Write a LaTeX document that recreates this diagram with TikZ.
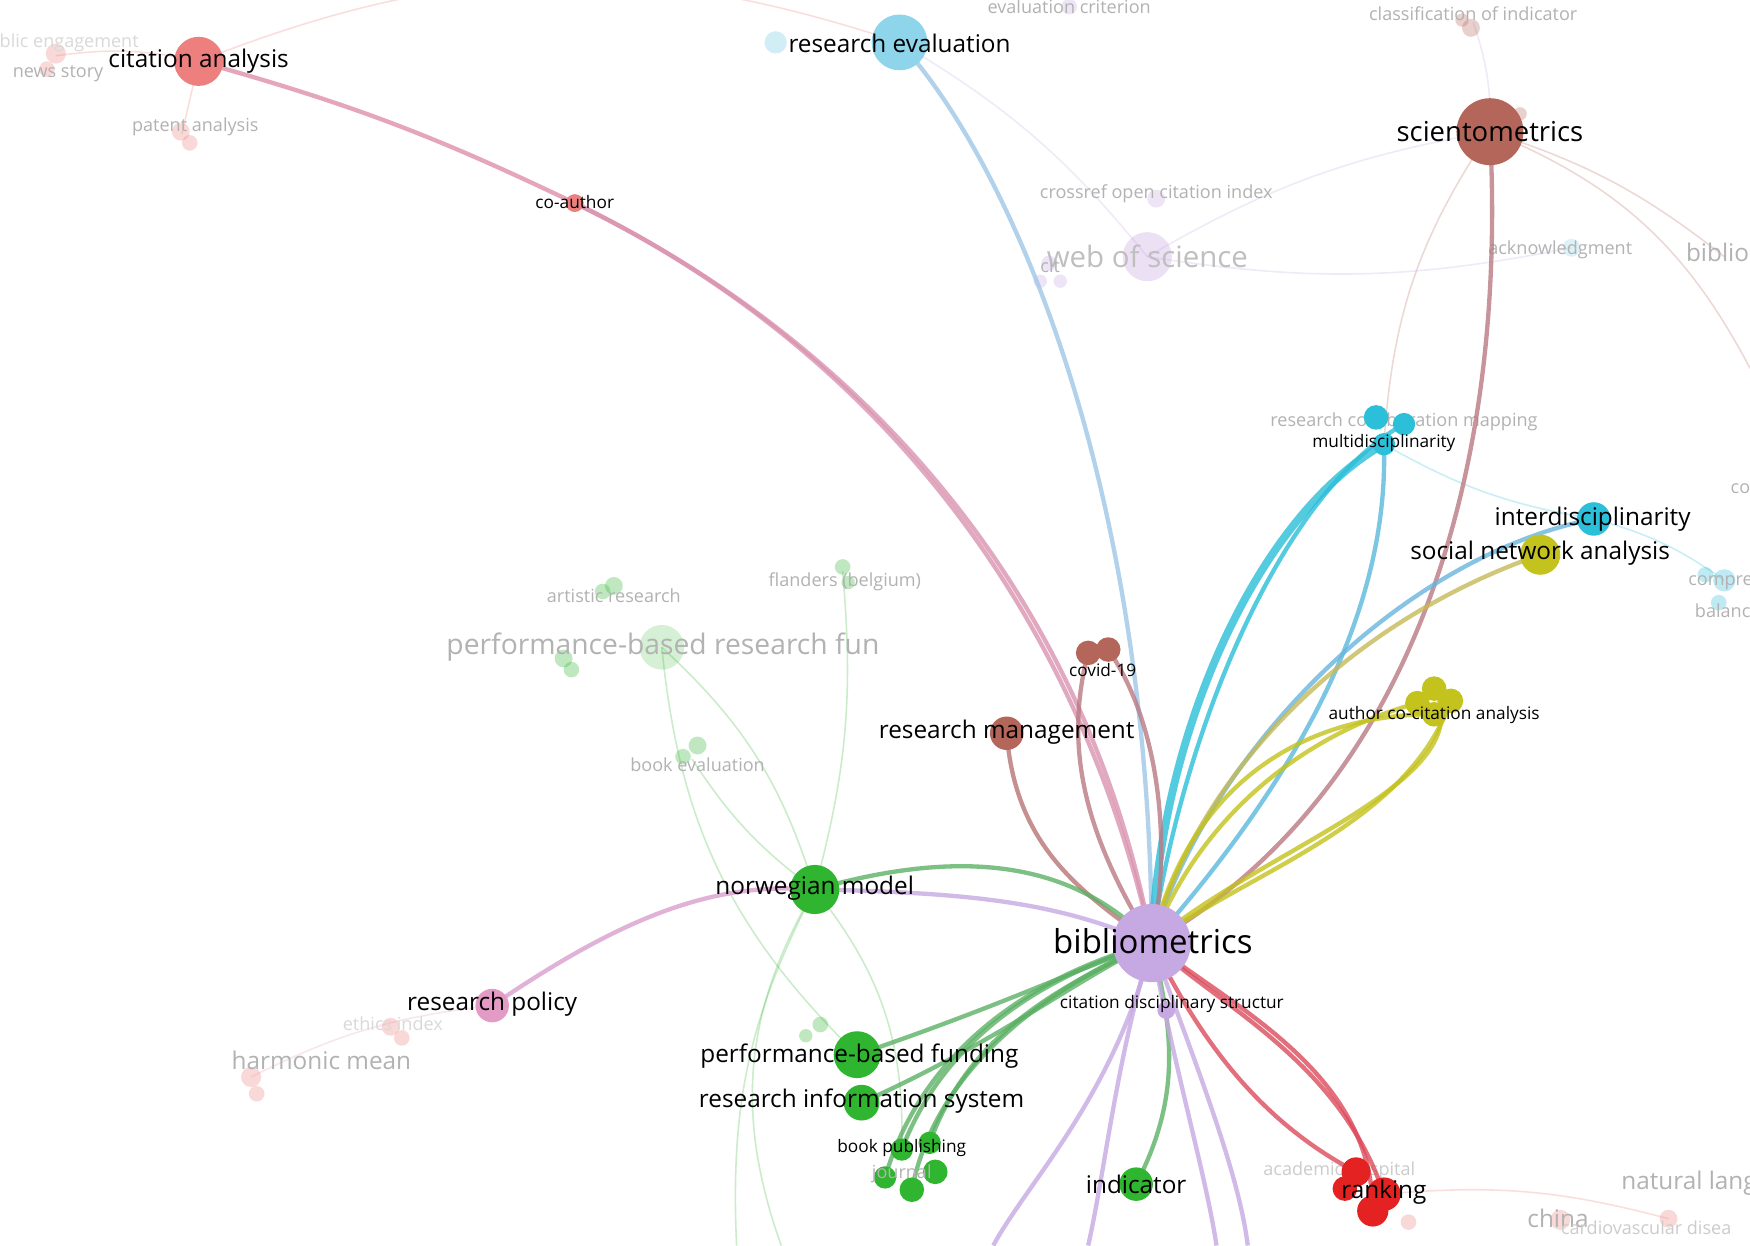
\documentclass[tikz,border=0pt]{standalone}
\usepackage{fontspec}
\setmainfont{Open Sans}
\begin{document}
\begin{tikzpicture}[x=0.01cm,y=-0.01cm,
  lbl/.style={font=\fontsize{6.2}{7}\selectfont,text=black,inner sep=0pt},
  big/.style={font=\fontsize{8.4}{9}\selectfont,text=black,inner sep=0pt},
  mid/.style={font=\fontsize{7}{8}\selectfont,text=black,inner sep=0pt},
  sml/.style={font=\fontsize{4.4}{5}\selectfont,text=black,inner sep=0pt},
  faint/.style={font=\fontsize{4.6}{5}\selectfont,text=black!30,inner sep=0pt},
  fbig/.style={font=\fontsize{6.2}{7}\selectfont,text=black!30,inner sep=0pt},
  edge/.style={line width=1.1pt,draw opacity=0.8},
  bg/.style={line width=0.4pt,draw opacity=0.25}]
\useasboundingbox (0,0) rectangle (1568,1116);
\fill[white] (0,0) rectangle (1568,1116);
\definecolor{lav}{HTML}{C6A9E2}
\definecolor{brn}{HTML}{B5665A}
\definecolor{sal}{HTML}{EE7F7F}
\definecolor{lblu}{HTML}{8ED4EA}
\definecolor{cyn}{HTML}{2BBFD9}
\definecolor{yel}{HTML}{C4C21C}
\definecolor{grn}{HTML}{2FB52F}
\definecolor{pnk}{HTML}{E39BC6}
\definecolor{rd}{HTML}{E52222}

% centres
\coordinate (B) at (1032,845);
\coordinate (S) at (1335,118);
\coordinate (CA) at (178,55);
\coordinate (RE) at (806,38);
\coordinate (CO) at (515,182);
\coordinate (M1) at (1233,374);
\coordinate (M2) at (1258,380);
\coordinate (M) at (1240,398);
\coordinate (I) at (1428,465);
\coordinate (SN) at (1380,497);
\coordinate (A1) at (1285,617);
\coordinate (A2) at (1270,630);
\coordinate (A) at (1285,640);
\coordinate (A3) at (1300,628);
\coordinate (C1) at (975,585);
\coordinate (C) at (993,582);
\coordinate (RM) at (902,657);
\coordinate (N) at (730,797);
\coordinate (RP) at (441,901);
\coordinate (PF) at (768,945);
\coordinate (RI) at (772,988);
\coordinate (BP1) at (808,1030);
\coordinate (BP) at (833,1024);
\coordinate (BP3) at (838,1050);
\coordinate (BP4) at (793,1055);
\coordinate (BP5) at (817,1066);
\coordinate (IN) at (1018,1061);
\coordinate (CD) at (1045,905);
\coordinate (R1) at (1215,1050);
\coordinate (R) at (1240,1070);
\coordinate (R2) at (1230,1085);
\coordinate (R3) at (1205,1065);
\coordinate (WS) at (1028,230);
\coordinate (PR) at (593,580);

% faint background links
\draw[bg,lav] (RE) to[bend left=10] (WS);
\draw[bg,brn] (S) to[bend left=10] (1545,230);
\draw[bg,brn] (S) to[bend right=15] (M);
\draw[bg,lav] (WS) to[bend left=10] (S);
\draw[bg,lav] (WS) to[bend right=10] (1408,222);
\draw[bg,grn] (PR) to[bend left=15] (N);
\draw[bg,grn] (620,680) to[bend right=10] (N);
\draw[bg,grn] (755,512) to[bend left=10] (N);
\draw[bg,grn] (PR) to[bend right=20] (PF);
\draw[bg,cyn] (I) to[bend left=10] (1545,520);
\draw[bg,cyn] (M) to[bend right=10] (I);
\draw[bg,sal] (CA) to[bend right=10] (50,50);
\draw[bg,sal] (CA) to (163,120);
\draw[bg,sal] (CA) to[bend left=20] (RE);
\draw[bg,pnk] (RP) to[bend right=10] (225,965);
\draw[bg,sal] (R) to[bend left=10] (1495,1092);
\draw[bg,grn] (N) to[bend left=20] (BP1);
\draw[bg,grn] (N) to[bend right=25] (700,1116);
\draw[bg,grn] (N) to[bend right=15] (660,1116);
\draw[bg,lav] (1320,20) to[bend left=10] (S);
\draw[bg,brn] (S) to[bend left=20] (1568,330);

% faint nodes
\foreach \x/\y/\s/\c in {958/6/14/lav, 1318/25/16/brn, 1310/18/12/brn, 1362/102/12/brn, 1036/178/16/lav, 940/236/14/lav, 932/252/12/lav, 950/252/12/lav, 1408/222/16/lblu, 1545/520/20/cyn, 1528/515/14/cyn, 1540/540/14/cyn, 550/525/16/grn, 540/530/14/grn, 755/508/14/grn, 760/522/12/grn, 505/590/16/grn, 512/600/14/grn, 625/668/16/grn, 612/678/14/grn, 735/918/14/grn, 722/928/12/grn, 350/920/16/sal, 360/930/14/sal, 225/965/18/sal, 230/980/14/sal, 50/48/18/sal, 42/62/14/sal, 162/118/16/sal, 170/128/14/sal, 1398/1093/18/sal, 1495/1092/16/sal, 1262/1095/14/sal}
  {\fill[\c,opacity=0.3] (\x,\y) circle (\s/2);}
\fill[lblu,opacity=0.4] (695,38) circle (10);
\fill[lav,opacity=0.35] (WS) circle (22);
\fill[grn,opacity=0.2] (PR) circle (20);

\node[faint] at (958,6) {evaluation criterion};
\node[faint] at (1320,12) {classification of indicator};
\node[faint] at (1036,174) {crossref open citation index};
\node[font=\fontsize{7.5}{8}\selectfont,text=black!25,inner sep=0pt] at (1028,230) {web of science};
\node[faint] at (941,238) {cit};
\node[faint] at (1398,224) {acknowledgment};
\node[fbig,anchor=west] at (1510,226) {biblio};
\node[faint] at (1258,378) {research collaboration mapping};
\node[faint,anchor=west] at (1550,438) {co};
\node[faint,anchor=west] at (1512,520) {comprehensive};
\node[faint,anchor=west] at (1518,547) {balanc};
\node[faint] at (550,534) {artistic research};
\node[faint] at (757,521) {flanders (belgium)};
\node[font=\fontsize{7.2}{8}\selectfont,text=black!30,inner sep=0pt] at (594,580) {performance-based research fun};
\node[faint] at (625,685) {book evaluation};
\node[faint,text=black!15] at (352,917) {ethics index};
\node[font=\fontsize{6.2}{7}\selectfont,text=black!30,inner sep=0pt] at (288,950) {harmonic mean};
\node[faint] at (52,66) {news story};
\node[faint,text=black!15] at (62,38) {blic engagement};
\node[faint] at (175,114) {patent analysis};
\node[faint,text=black!20] at (1200,1049) {academic hospital};
\node[fbig] at (1396,1092) {china};
\node[fbig,anchor=west] at (1452,1060) {natural lang};
\node[faint,text=black!20] at (1475,1100) {cardiovascular disea};

% edges
\draw[edge,sal!60!lav] (CA) to[bend left=5] (CO);
\draw[edge,sal!50!lav] (CO) .. controls (800,320) and (980,560) .. (B);
\draw[edge,sal!50!lav] (CO) .. controls (760,300) and (960,520) .. (B);
\draw[edge,lblu!70!lav] (RE) .. controls (900,140) and (1030,420) .. (B);
\draw[edge,brn!70!lav] (S) .. controls (1350,400) and (1280,700) .. (B);
\draw[edge,cyn,line width=2pt] (M) .. controls (1130,460) and (1040,650) .. (B);
\draw[edge,cyn] (M2) .. controls (1150,440) and (1060,650) .. (B);
\draw[edge,cyn!70!lav] (M) .. controls (1245,550) and (1160,700) .. (B);
\draw[edge,cyn!60!lav] (I) .. controls (1250,500) and (1080,680) .. (B);
\draw[edge,yel!70!lav] (SN) .. controls (1200,560) and (1070,700) .. (B);
\draw[edge,yel] (A) .. controls (1150,640) and (1060,720) .. (B);
\draw[edge,yel] (A2) .. controls (1160,660) and (1070,740) .. (B);
\draw[edge,yel] (A1) .. controls (1330,700) and (1130,760) .. (B);
\draw[edge,yel] (A3) .. controls (1260,740) and (1120,780) .. (B);
\draw[edge,brn!70!lav] (C1) .. controls (950,680) and (980,760) .. (B);
\draw[edge,brn!70!lav] (C) .. controls (1040,650) and (1050,760) .. (B);
\draw[edge,brn!80!lav] (RM) .. controls (910,760) and (970,800) .. (B);
\draw[edge,grn!70!lav] (N) .. controls (860,760) and (960,770) .. (B);
\draw[edge,lav] (N) .. controls (880,800) and (950,810) .. (B);
\draw[edge,pnk!70!lav] (RP) .. controls (560,820) and (640,790) .. (N);
\draw[edge,grn!70!lav] (PF) .. controls (900,900) and (960,870) .. (B);
\draw[edge,grn!70!lav] (RI) .. controls (900,930) and (960,880) .. (B);
\draw[edge,grn!70!lav] (BP1) .. controls (850,920) and (950,870) .. (B);
\draw[edge,grn!70!lav] (BP) .. controls (870,920) and (960,880) .. (B);
\draw[edge,grn!70!lav] (BP4) .. controls (830,930) and (940,870) .. (B);
\draw[edge,grn!70!lav] (BP5) .. controls (840,950) and (950,880) .. (B);
\draw[edge,grn!70!lav] (IN) .. controls (1060,980) and (1050,920) .. (B);
\draw[edge,rd!70!lav] (R1) .. controls (1120,1000) and (1070,920) .. (B);
\draw[edge,rd!70!lav] (R) .. controls (1200,950) and (1090,900) .. (B);
\draw[edge,rd!70!lav] (R2) .. controls (1230,960) and (1100,900) .. (B);
\draw[edge,lav] (B) .. controls (1000,950) and (990,1050) .. (975,1116);
\draw[edge,lav] (B) .. controls (1050,950) and (1080,1050) .. (1090,1116);
\draw[edge,lav] (B) .. controls (1070,950) and (1110,1050) .. (1118,1116);
\draw[edge,lav] (B) .. controls (1000,980) and (920,1060) .. (890,1116);

% node discs
\foreach \n/\r/\c in {B/35/lav, S/30/brn, CA/22/sal, RE/25/lblu, CO/8/sal, M1/11/cyn, M2/10/cyn, M/10/cyn, I/15/cyn, SN/18/yel, A1/11/yel, A2/11/yel, A/11/yel, A3/11/yel, C1/11/brn, C/11/brn, RM/15/brn, N/22/grn, RP/15/pnk, PF/21/grn, RI/16/grn, BP1/10/grn, BP/10/grn, BP3/11/grn, BP4/10/grn, BP5/11/grn, IN/15/grn, CD/8/lav, R1/13/rd, R/15/rd, R2/14/rd, R3/11/rd}
  {\fill[\c] (\n) circle (\r);}

% labels
\node[big] (tB) at (1033,843) {bibliometrics};
\node[mid] (tS) at (1335,118) {scientometrics};
\node[lbl] (tCA) at (178,55) {citation analysis};
\node[lbl] (tRE) at (806,39) {research evaluation};
\node[sml] (tCO) at (515,181) {co-author};
\node[sml] (tM) at (1240,397) {multidisciplinarity};
\node[lbl] (tI) at (1427,465) {interdisciplinarity};
\node[lbl] (tSN) at (1380,496) {social network analysis};
\node[sml] (tA) at (1285,641) {author co-citation analysis};
\node[sml] (tC) at (988,600) {covid-19};
\node[lbl] (tRM) at (902,656) {research management};
\node[lbl] (tN) at (730,796) {norwegian model};
\node[lbl] (tRP) at (441,900) {research policy};
\node[sml] (tCD) at (1050,900) {citation disciplinary structur};
\node[lbl] (tPF) at (770,946) {performance-based funding};
\node[lbl] (tRI) at (772,987) {research information system};
\node[sml] (tBP) at (808,1029) {book publishing};
\node[faint] (tJ) at (808,1052) {journal};
\node[lbl] (tIN) at (1018,1061) {indicator};
\node[lbl] (tR) at (1240,1068) {ranking};
\end{tikzpicture}
\end{document}
